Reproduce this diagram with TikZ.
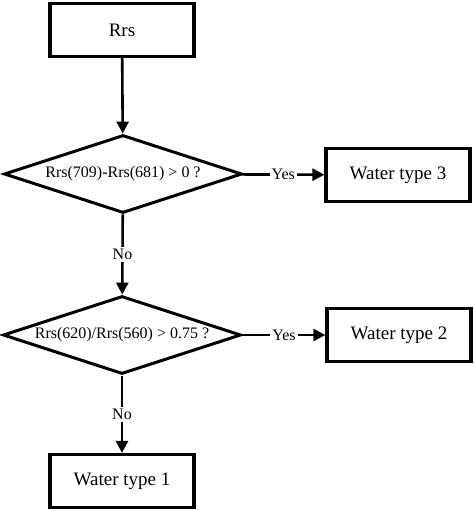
\documentclass[tikz,border=0pt]{standalone}
\usepackage{fontspec}
\setmainfont{Liberation Serif}
\usetikzlibrary{shapes.geometric, arrows.meta}

\begin{document}
\begin{tikzpicture}[x=0.5pt, y=-0.5pt,
        box/.style={draw, line width=1.6pt, minimum width=72pt, minimum height=26.5pt, inner sep=0pt, font=\fontsize{9.5}{11}\selectfont},
        test/.style={draw, diamond, aspect=3, line width=1.5pt, minimum width=119pt, minimum height=39pt, inner sep=0pt, font=\fontsize{8}{10}\selectfont},
        flow/.style={line width=1.3pt, -{Triangle[length=6pt, width=6pt]}},
        answer/.style={fill=white, inner sep=1pt, font=\fontsize{8}{10}\selectfont}]
        \useasboundingbox (0,0) rectangle (474,511);

        \node[box] (rrs) at (122,30) {Rrs};
        \node[test] (red) at (123,174) {Rrs(709)-Rrs(681) > 0 ?};
        \node[box] (type3) at (398,175) {Water type 3};
        \node[test] (ratio) at (122,335) {Rrs(620)/Rrs(560) > 0.75 ?};
        \node[box] (type2) at (399,335) {Water type 2};
        \node[box] (type1) at (122,481) {Water type 1};

        \draw[flow] (rrs) -- (red);
        \draw[flow] (red) -- node[answer] {Yes} (type3);
        \draw[flow] (red) -- node[answer] {No} (ratio);
        \draw[flow] (ratio) -- node[answer] {Yes} (type2);
        \draw[flow] (ratio) -- node[answer] {No} (type1);
\end{tikzpicture}
\end{document}
